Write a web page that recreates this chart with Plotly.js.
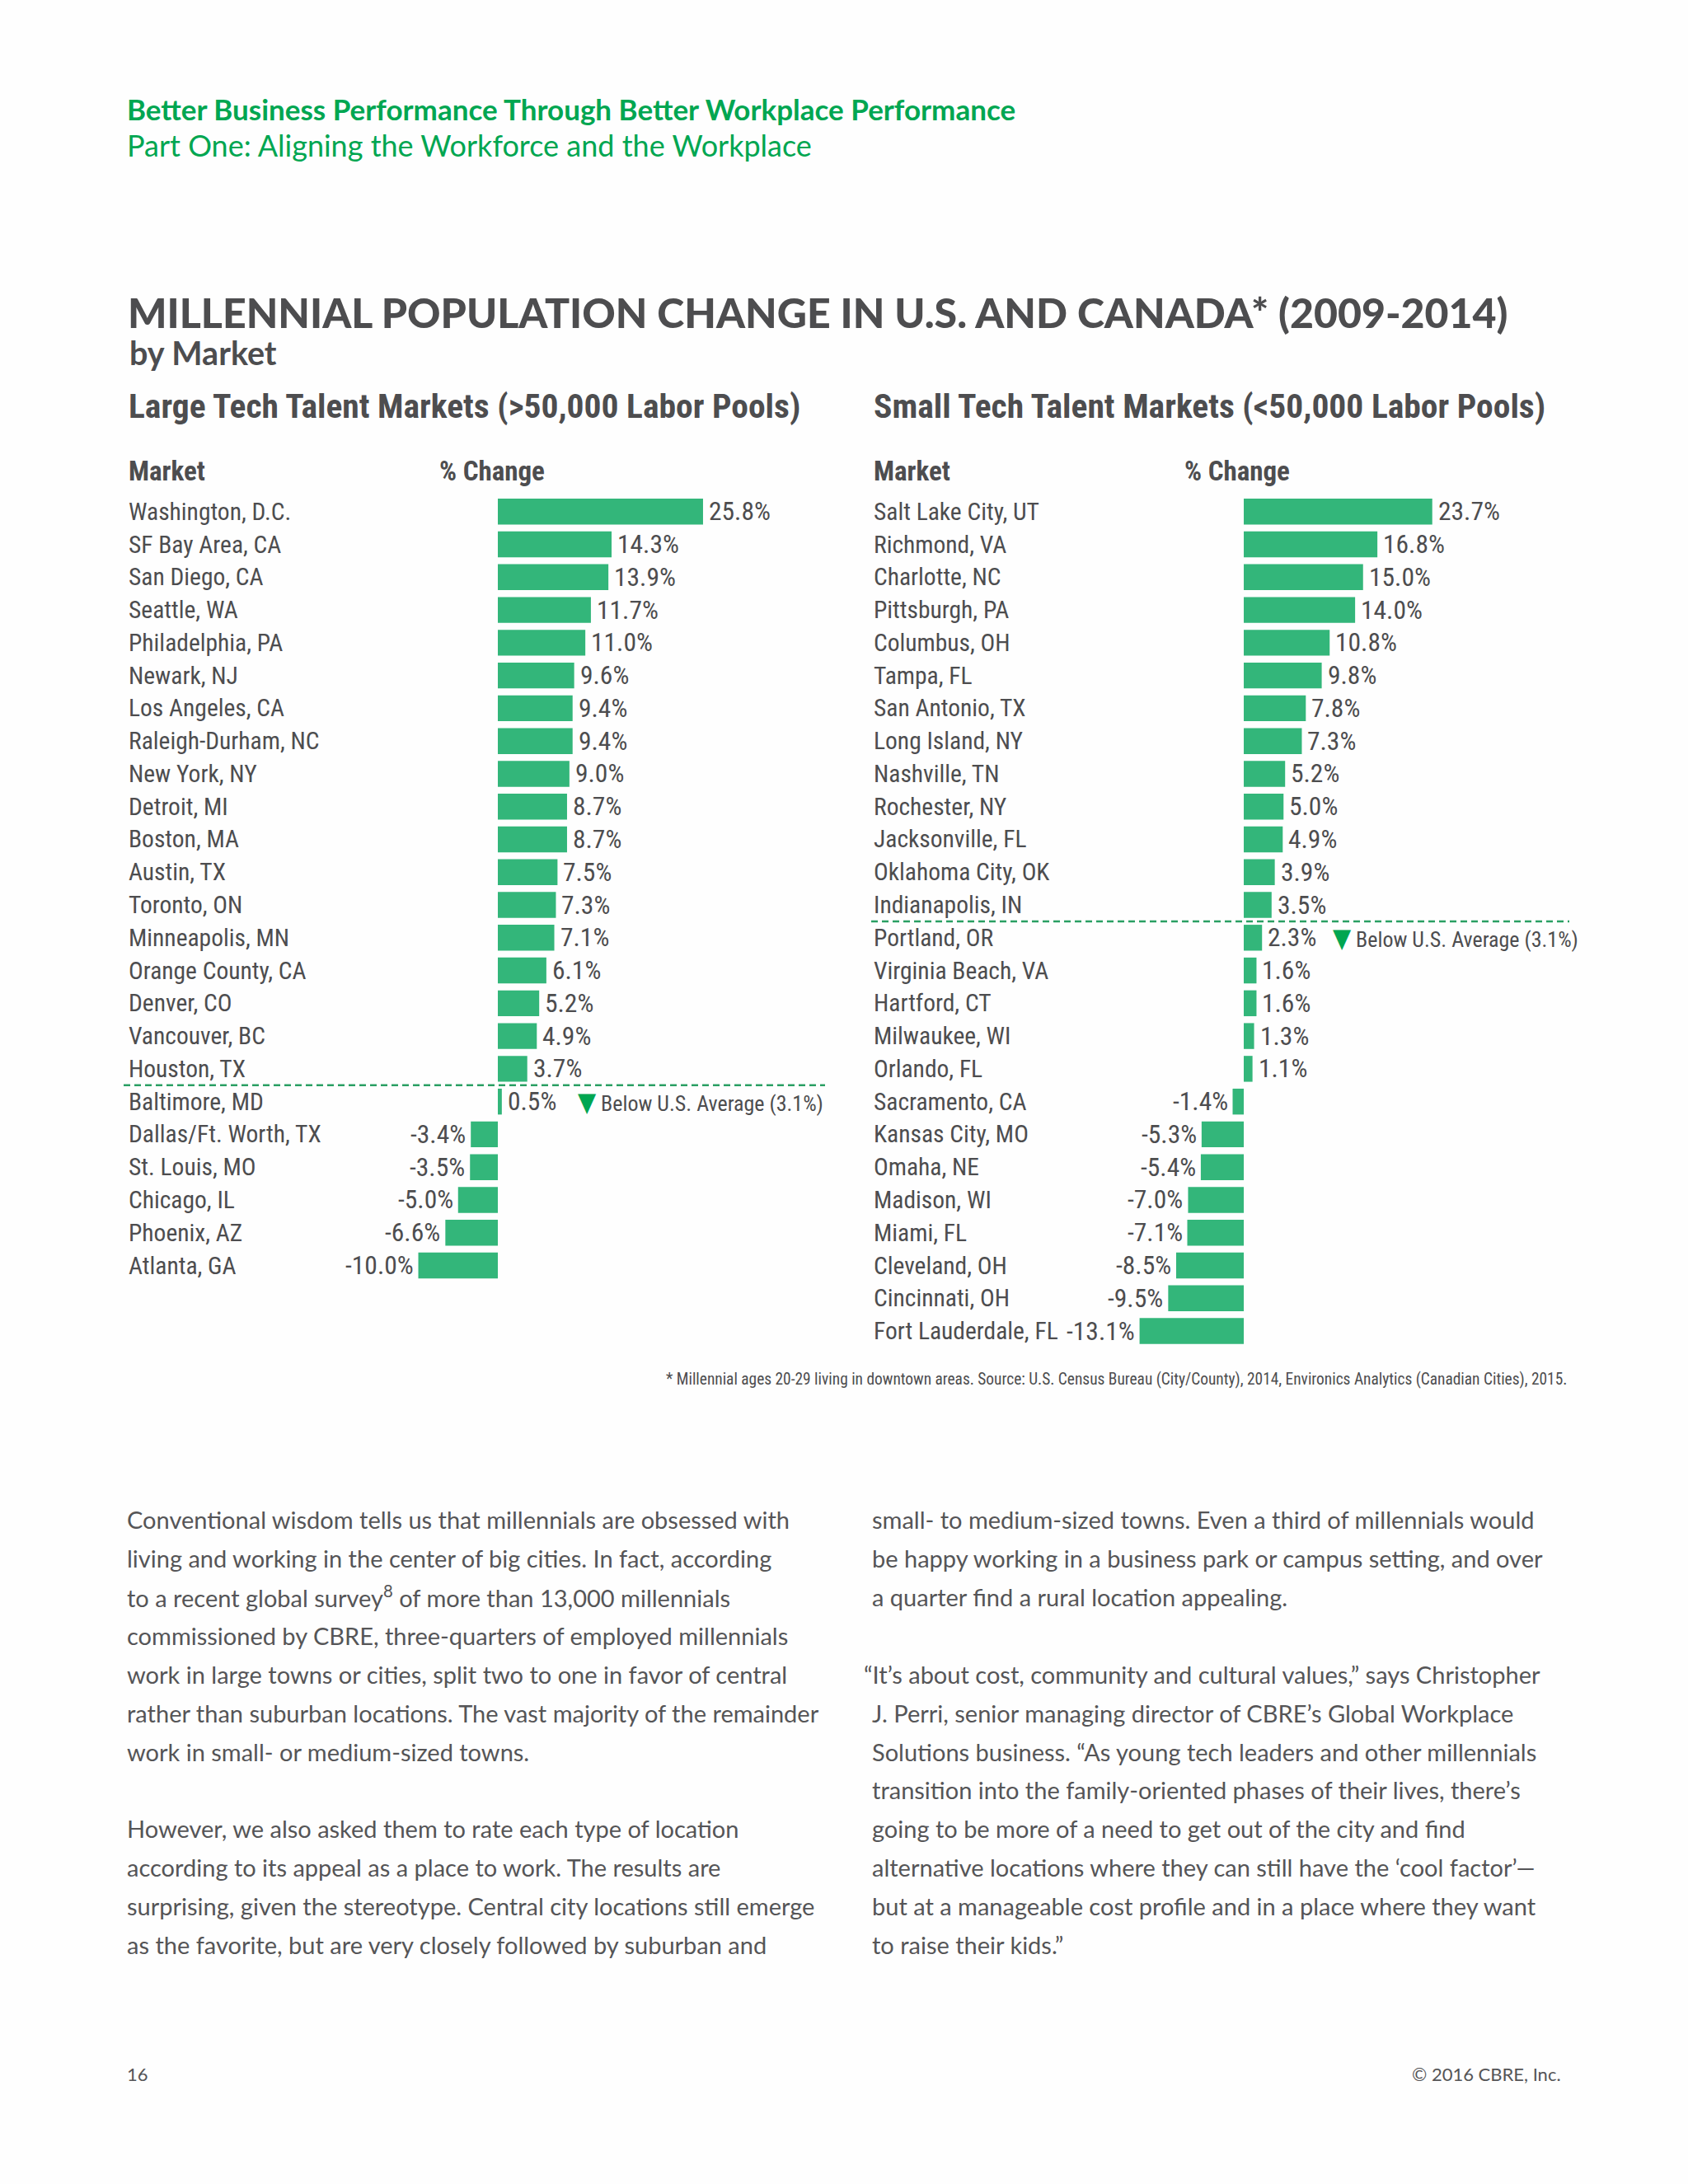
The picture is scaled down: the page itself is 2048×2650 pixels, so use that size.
<!DOCTYPE html>
<html>
<head>
<meta charset="utf-8">
<script src="https://cdn.plot.ly/plotly-3.0.1.min.js"></script>
<style>html,body{margin:0;padding:0;background:#fefefe;}#chart{width:2048px;height:2650px;}</style>
</head>
<body>
<div id="chart"></div>
<script>
// ---------- DATA ----------
const largeMarkets = ["Washington, D.C.", "SF Bay Area, CA", "San Diego, CA", "Seattle, WA", "Philadelphia, PA", "Newark, NJ", "Los Angeles, CA", "Raleigh-Durham, NC", "New York, NY", "Detroit, MI", "Boston, MA", "Austin, TX", "Toronto, ON", "Minneapolis, MN", "Orange County, CA", "Denver, CO", "Vancouver, BC", "Houston, TX", "Baltimore, MD", "Dallas/Ft. Worth, TX", "St. Louis, MO", "Chicago, IL", "Phoenix, AZ", "Atlanta, GA"];
const largeChange = [25.8, 14.3, 13.9, 11.7, 11.0, 9.6, 9.4, 9.4, 9.0, 8.7, 8.7, 7.5, 7.3, 7.1, 6.1, 5.2, 4.9, 3.7, 0.5, -3.4, -3.5, -5.0, -6.6, -10.0];

const smallMarkets = ["Salt Lake City, UT", "Richmond, VA", "Charlotte, NC", "Pittsburgh, PA", "Columbus, OH", "Tampa, FL", "San Antonio, TX", "Long Island, NY", "Nashville, TN", "Rochester, NY", "Jacksonville, FL", "Oklahoma City, OK", "Indianapolis, IN", "Portland, OR", "Virginia Beach, VA", "Hartford, CT", "Milwaukee, WI", "Orlando, FL", "Sacramento, CA", "Kansas City, MO", "Omaha, NE", "Madison, WI", "Miami, FL", "Cleveland, OH", "Cincinnati, OH", "Fort Lauderdale, FL"];
const smallChange = [23.7, 16.8, 15.0, 14.0, 10.8, 9.8, 7.8, 7.3, 5.2, 5.0, 4.9, 3.9, 3.5, 2.3, 1.6, 1.6, 1.3, 1.1, -1.4, -5.3, -5.4, -7.0, -7.1, -8.5, -9.5, -13.1];

const usAverage = 3.1;

const headerLine1 = "Better Business Performance Through Better Workplace Performance";
const headerLine2 = "Part One: Aligning the Workforce and the Workplace";
const chartTitle = "MILLENNIAL POPULATION CHANGE IN U.S. AND CANADA* (2009-2014)";
const chartSubtitle = "by Market";
const largeTitle = "Large Tech Talent Markets (&gt;50,000 Labor Pools)";
const smallTitle = "Small Tech Talent Markets (&lt;50,000 Labor Pools)";
const colMarket = "Market";
const colChange = "% Change";
const belowLabel = "Below U.S. Average (3.1%)";
const footnote = "* Millennial ages 20-29 living in downtown areas. Source: U.S. Census Bureau (City/County), 2014, Environics Analytics (Canadian Cities), 2015.";

const bodyLeft = [
  "Conventional wisdom tells us that millennials are obsessed with",
  "living and working in the center of big cities. In fact, according",
  "to a recent global survey<sup>8</sup> of more than 13,000 millennials",
  "commissioned by CBRE, three-quarters of employed millennials",
  "work in large towns or cities, split two to one in favor of central",
  "rather than suburban locations. The vast majority of the remainder",
  "work in small- or medium-sized towns.",
  "",
  "However, we also asked them to rate each type of location",
  "according to its appeal as a place to work. The results are",
  "surprising, given the stereotype. Central city locations still emerge",
  "as the favorite, but are very closely followed by suburban and"
];
const bodyRight = [
  "small- to medium-sized towns. Even a third of millennials would",
  "be happy working in a business park or campus setting, and over",
  "a quarter find a rural location appealing.",
  "",
  "\u201CIt\u2019s about cost, community and cultural values,\u201D says Christopher",
  "J. Perri, senior managing director of CBRE\u2019s Global Workplace",
  "Solutions business. \u201CAs young tech leaders and other millennials",
  "transition into the family-oriented phases of their lives, there\u2019s",
  "going to be more of a need to get out of the city and find",
  "alternative locations where they can still have the \u2018cool factor\u2019\u2014",
  "but at a manageable cost profile and in a place where they want",
  "to raise their kids.\u201D"
];
const pageNumber = "16";
const copyright = "\u00A9 2016 CBRE, Inc.";

// ---------- STYLE ----------
const W = 2048, H = 2650;
const px = v => v / W;
const py = v => 1 - v / H;
const NARROW = "Liberation Sans Narrow, Arial Narrow, Roboto Condensed, DejaVu Sans Condensed, sans-serif";
const SANS = "Lato, Open Sans, sans-serif";
const HEAVY = "Lato Black, Lato, sans-serif";
const TXT = "#4d4d4f";
const BODY = "#555557";
const BAR = "#33b67a";
const GREEN = "#00a651";
const DASH = "#2a9f63";

function barTrace(markets, values, xa, ya) {
  return {
    type: "bar", orientation: "h",
    y: markets, x: values, xaxis: xa, yaxis: ya,
    width: 0.79,
    marker: {color: BAR, line: {width: 0}},
    hoverinfo: "skip",
    showlegend: false
  };
}

const data = [
  barTrace(largeMarkets, largeChange, "x", "y"),
  barTrace(smallMarkets, smallChange, "x2", "y2")
];

const rowPitch = 39.77;
const topPx = 600.9;

const annotations = [];
function ann(o) { annotations.push(Object.assign({showarrow: false, xref: "paper", yref: "paper"}, o)); }

// page headers
ann({x: px(152), y: py(132), xanchor: "left", yanchor: "middle", text: headerLine1, font: {family: SANS, size: 35, color: GREEN, weight: 700}});
ann({x: px(152), y: py(176), xanchor: "left", yanchor: "middle", text: headerLine2, font: {family: SANS, size: 36, color: GREEN}});
ann({x: px(155), y: py(428), xanchor: "left", yanchor: "middle", text: chartSubtitle, font: {family: SANS, size: 39.5, color: TXT, weight: 700}});

// panel titles and column headers
ann({x: px(154), y: py(492), xanchor: "left", yanchor: "middle", text: largeTitle, font: {family: NARROW, size: 41.5, color: TXT, weight: 700}});
ann({x: px(1058), y: py(492), xanchor: "left", yanchor: "middle", text: smallTitle, font: {family: NARROW, size: 41.5, color: TXT, weight: 700}});
[[154, 531], [1058, 1435]].forEach(([a, b]) => {
  ann({x: px(a), y: py(571), xanchor: "left", yanchor: "middle", text: colMarket, font: {family: NARROW, size: 33, color: TXT, weight: 700}});
  ann({x: px(b), y: py(571), xanchor: "left", yanchor: "middle", text: colChange, font: {family: NARROW, size: 33, color: TXT, weight: 700}});
});

// category labels (left aligned) and value labels
function panelLabels(markets, values, xa, ya, labelX) {
  markets.forEach((m, i) => {
    ann({x: px(labelX), yref: ya, y: m, xanchor: "left", yanchor: "middle", text: m, font: {family: NARROW, size: 29.5, color: TXT}});
    const v = values[i];
    ann({xref: xa, yref: ya, x: v, y: m, xanchor: v >= 0 ? "left" : "right", xshift: v >= 0 ? 5 : -4, yanchor: "middle",
         text: v.toFixed(1) + "%", font: {family: NARROW, size: 31.5, color: TXT}});
  });
}
panelLabels(largeMarkets, largeChange, "x", "y", 154);
panelLabels(smallMarkets, smallChange, "x2", "y2", 1058);

// below-average markers
const idxL = largeChange.findIndex(v => v < usAverage);
const idxS = smallChange.findIndex(v => v < usAverage);
const belowText = '<span style="color:' + GREEN + ';font-size:32px">\u25BC</span> ' + belowLabel;
ann({xref: "x", yref: "y", x: 9.8, y: largeMarkets[idxL], xanchor: "left", yanchor: "middle", text: belowText, font: {family: NARROW, size: 26, color: TXT}});
ann({xref: "x2", yref: "y2", x: 11.0, y: smallMarkets[idxS], xanchor: "left", yanchor: "middle", text: belowText, font: {family: NARROW, size: 26, color: TXT}});

// footnote
ann({x: px(1903), y: py(1673), xanchor: "right", yanchor: "middle", text: footnote, font: {family: NARROW, size: 19.4, color: TXT}});

// body text
const lineY0 = 1843.6, linePitch = 46.9;
bodyLeft.forEach((t, i) => { if (t) ann({x: px(152), y: py(lineY0 + i * linePitch), xanchor: "left", yanchor: "middle", text: t, font: {family: SANS, size: 29, color: BODY}}); });
bodyRight.forEach((t, i) => { if (t) ann({x: px(t.startsWith("\u201C") ? 1046 : 1056), y: py(lineY0 + i * linePitch), xanchor: "left", yanchor: "middle", text: t, font: {family: SANS, size: 29, color: BODY}}); });

// footer
ann({x: px(152), y: py(2516), xanchor: "left", yanchor: "middle", text: pageNumber, font: {family: SANS, size: 22, color: BODY}});
ann({x: px(1896), y: py(2516), xanchor: "right", yanchor: "middle", text: copyright, font: {family: SANS, size: 22, color: BODY}});

const shapes = [
  {type: "line", xref: "x domain", yref: "y", x0: 0, x1: 1, y0: idxL - 0.5, y1: idxL - 0.5, line: {color: DASH, width: 2.5, dash: "8px,5px"}},
  {type: "line", xref: "x2 domain", yref: "y2", x0: 0, x1: 1, y0: idxS - 0.5, y1: idxS - 0.5, line: {color: DASH, width: 2.5, dash: "8px,5px"}}
];

const hiddenX = {showgrid: false, zeroline: false, showticklabels: false, showline: false, ticks: "", fixedrange: true};
const hiddenY = {showgrid: false, zeroline: false, showticklabels: false, showline: false, ticks: "", fixedrange: true, type: "category", categoryorder: "array"};

const layout = {
  width: W, height: H,
  margin: {l: 0, r: 0, t: 0, b: 0},
  paper_bgcolor: "#fefefe", plot_bgcolor: "rgba(0,0,0,0)",
  showlegend: false,
  bargap: 0.21,
  title: {text: chartTitle, x: px(155), xanchor: "left", xref: "paper", y: py(380), yanchor: "middle", yref: "paper",
          font: {family: HEAVY, size: 50, color: TXT, weight: 900}},
  xaxis: Object.assign({}, hiddenX, {domain: [px(150), px(1001)], range: [-47.05, 41.14], anchor: "y"}),
  yaxis: Object.assign({}, hiddenY, {domain: [py(topPx + largeMarkets.length * rowPitch), py(topPx)], categoryarray: largeMarkets, range: [largeMarkets.length - 0.5, -0.5], anchor: "x"}),
  xaxis2: Object.assign({}, hiddenX, {domain: [px(1057), px(1904)], range: [-46.84, 40.93], anchor: "y2"}),
  yaxis2: Object.assign({}, hiddenY, {domain: [py(topPx + smallMarkets.length * rowPitch), py(topPx)], categoryarray: smallMarkets, range: [smallMarkets.length - 0.5, -0.5], anchor: "x2"}),
  annotations: annotations,
  shapes: shapes
};

Plotly.newPlot("chart", data, layout, {displayModeBar: false, staticPlot: true});
</script>
</body>
</html>
